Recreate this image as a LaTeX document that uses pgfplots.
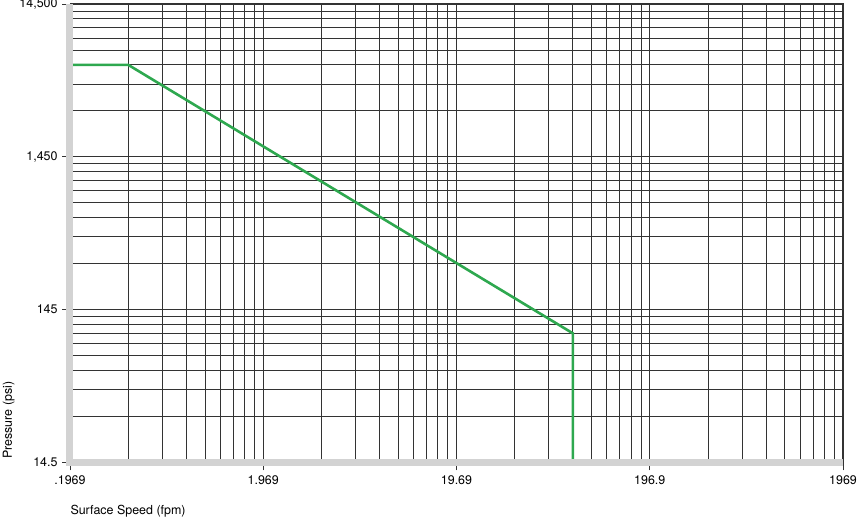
\documentclass[border=0pt]{standalone}
\usepackage{fontspec}
\setmainfont{TeX Gyre Heros}
\usepackage{pgfplots}
\pgfplotsset{compat=1.18}
\definecolor{lgreen}{HTML}{2EA84F}
\definecolor{gridc}{HTML}{333333}
\definecolor{barc}{HTML}{D3D3D3}
\begin{document}
\begin{tikzpicture}
\useasboundingbox (-70bp,-62.5bp) rectangle (790bp,462.5bp);
\begin{axis}[
  at={(0,0)}, anchor=south west,
  scale only axis, width=773bp, height=458.5bp,
  xmode=log, ymode=log,
  xmin=0.1969, xmax=1969, ymin=14.5, ymax=14500,
  xtick={0.1969,1.969,19.69,196.9,1969},
  xticklabels={.1969,1.969,19.69,196.9,1969},
  ytick={14.5,145,1450,14500},
  yticklabels={14.5,145,{1,450},{14,500}},
  minor xtick={0.3938,0.5907,0.7876,0.9845,1.1814,1.3783,1.5752,1.7721,
    3.938,5.907,7.876,9.845,11.814,13.783,15.752,17.721,
    39.38,59.07,78.76,98.45,118.14,137.83,157.52,177.21,
    393.8,590.7,787.6,984.5,1181.4,1378.3,1575.2,1772.1},
  minor ytick={29,43.5,58,72.5,87,101.5,116,130.5,
    290,435,580,725,870,1015,1160,1305,
    2900,4350,5800,7250,8700,10150,11600,13050},
  grid=both,
  grid style={gridc, line width=0.8bp},
  major grid style={gridc, line width=0.8bp},
  minor grid style={gridc, line width=0.8bp},
  axis line style={draw=none},
  tick align=outside,
  major tick length=8bp, minor tick length=0pt,
  xtick pos=bottom, ytick pos=left,
  tick style={gridc, line width=0.8bp},
  tick label style={font=\fontsize{12.5}{15}\selectfont},
  yticklabel style={xshift=-1bp},
  xticklabel style={yshift=-2bp},
  every axis x label/.style={at={([shift={(-3bp,-52.5bp)}]rel axis cs:0,0)}, anchor=base west},
  every axis y label/.style={at={([xshift=-58bp]rel axis cs:0,0)}, rotate=90, anchor=base west},
  label style={font=\fontsize{12.5}{15}\selectfont},
  xlabel={Surface Speed (fpm)},
  ylabel={Pressure (psi)},
  after end axis/.code={
    \draw[gridc, line width=1.3bp] (rel axis cs:0,1) -- (rel axis cs:1,1) -- (rel axis cs:1,0);
    \draw[barc, line width=7bp] (rel axis cs:0,1) -- (rel axis cs:0,0) -- (rel axis cs:1,0);
  },
]
\addplot[lgreen, line width=2.6bp] coordinates {
  (0.1969,5800) (0.3938,5800) (78.76,101.5) (78.76,14.5)
};
\end{axis}
\end{tikzpicture}
\end{document}
